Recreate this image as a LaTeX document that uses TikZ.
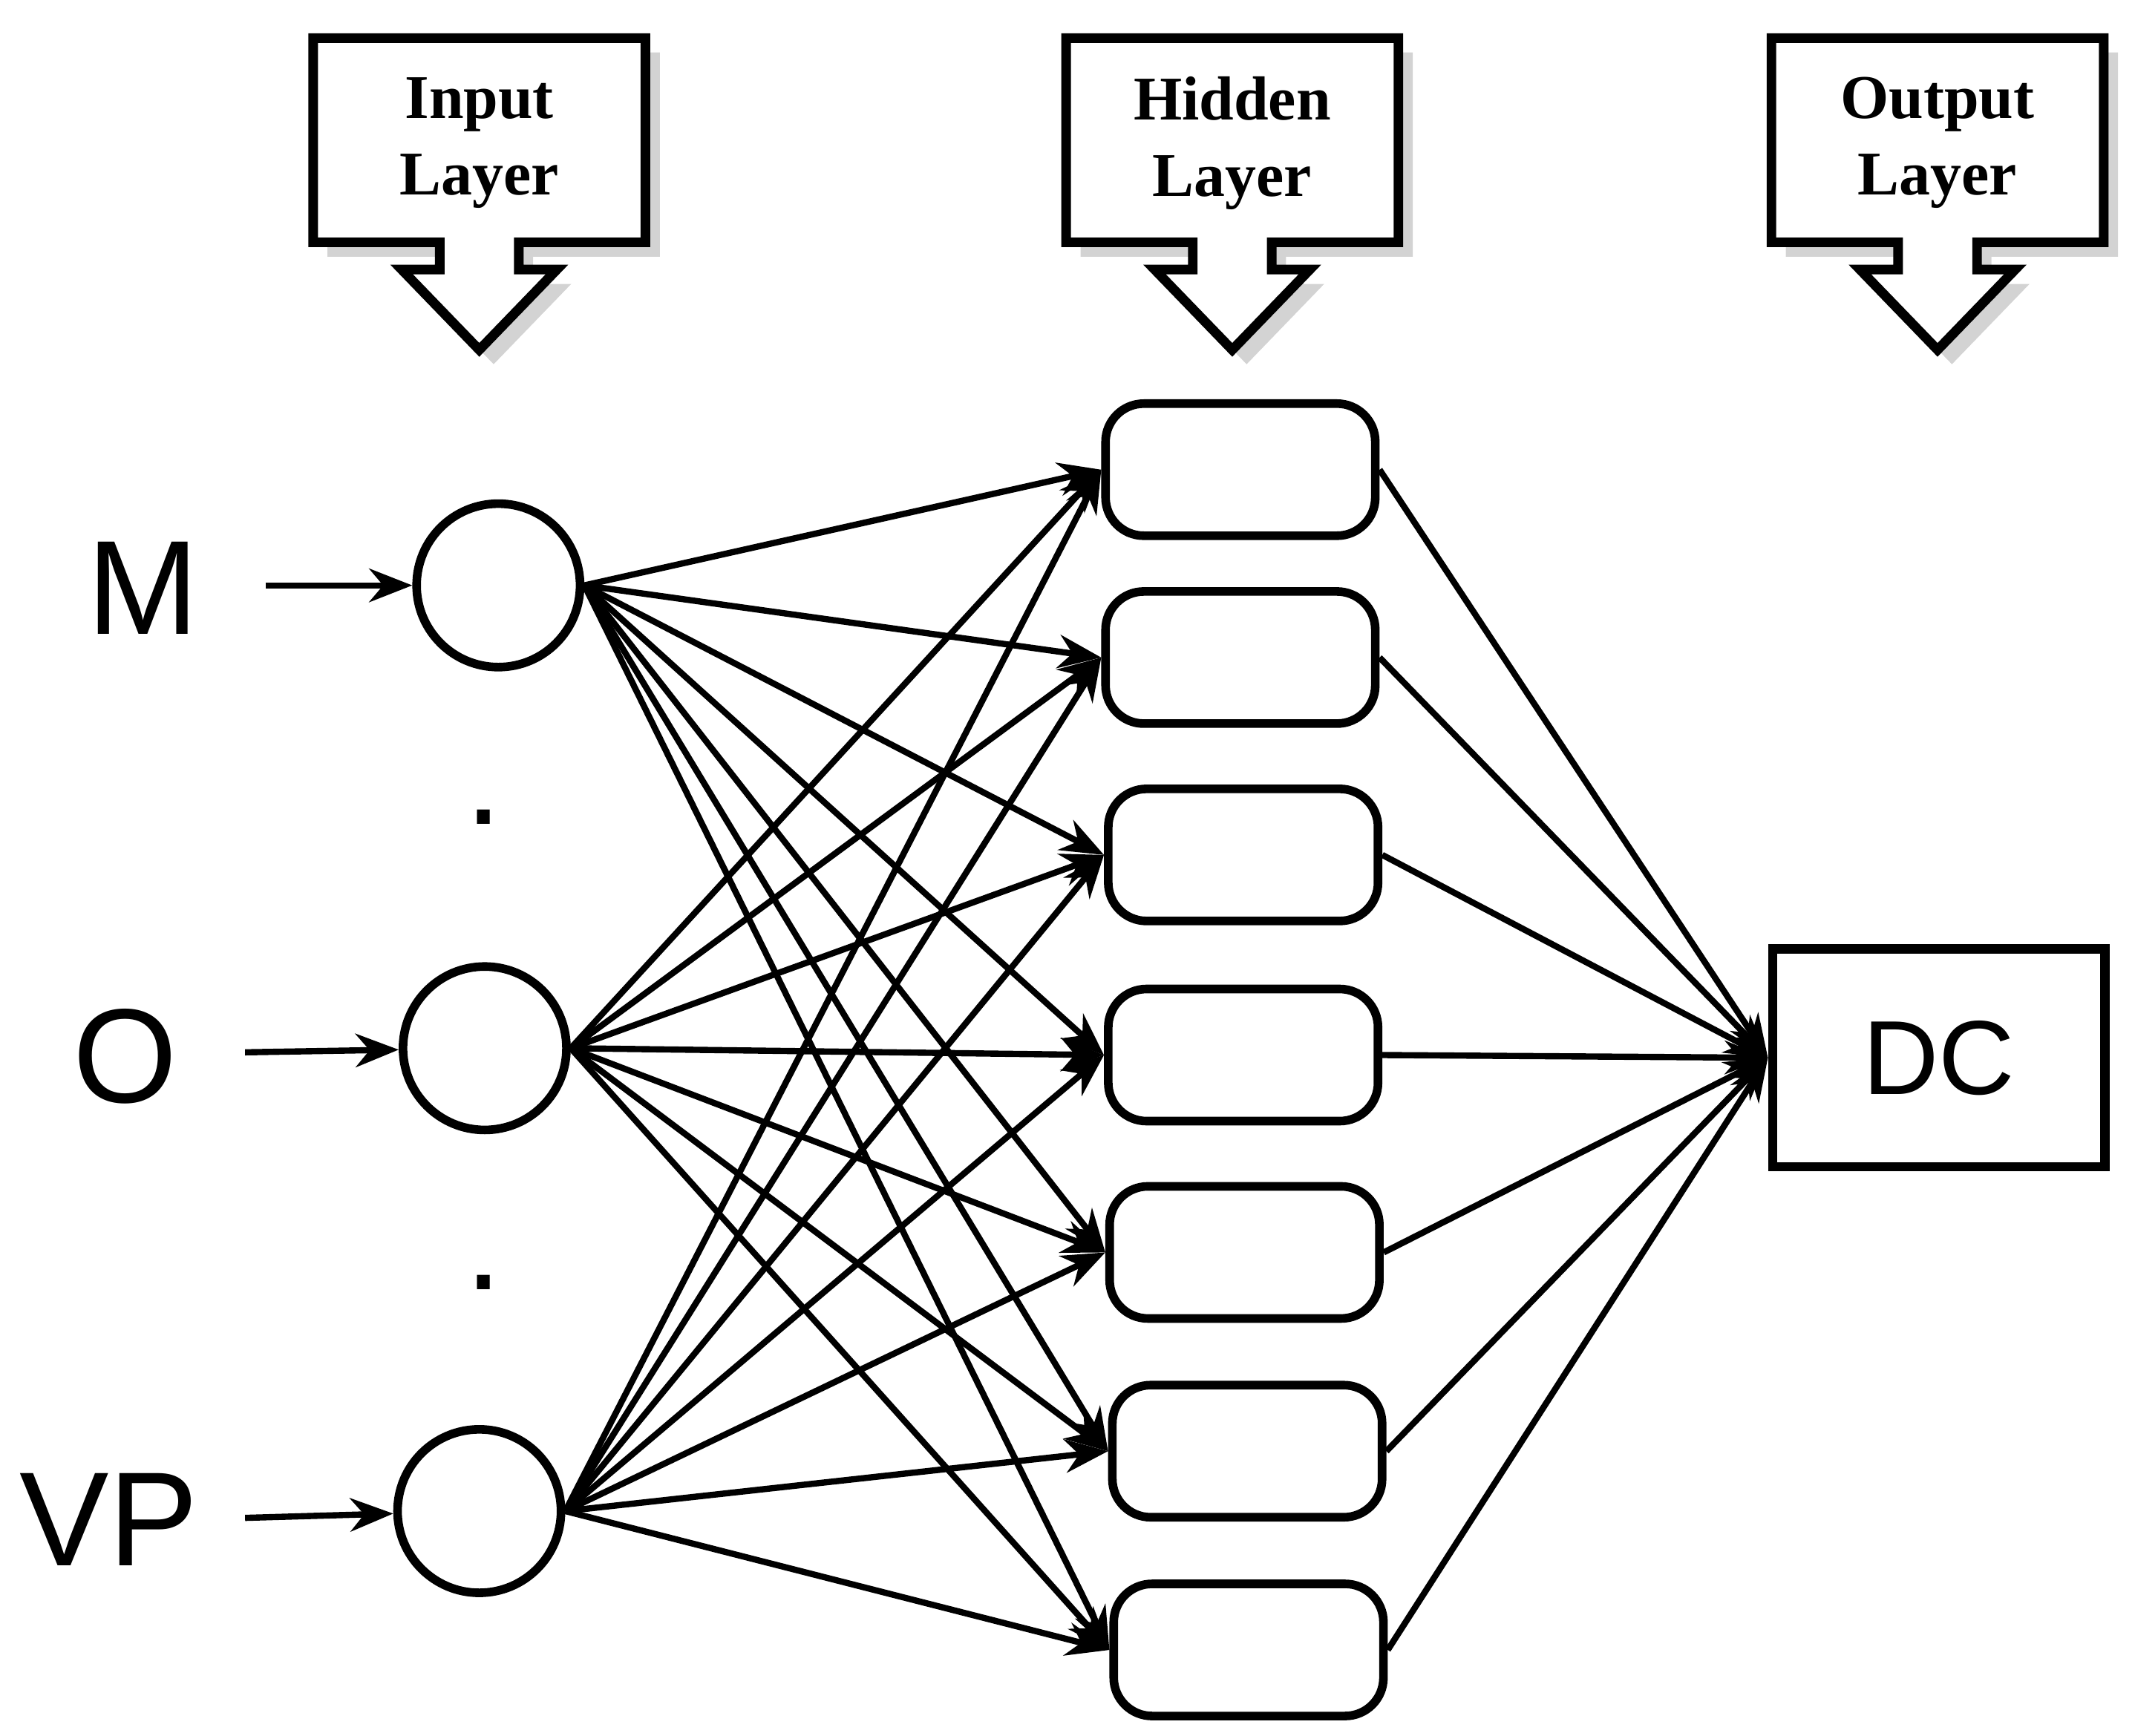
\documentclass[tikz,border=0pt]{standalone}
\usepackage{fontspec}
\setmainfont{Liberation Sans}
\newfontfamily\calloutfont{Liberation Serif}
\usetikzlibrary{arrows.meta, shadows}
\begin{document}
\begin{tikzpicture}[x=0.01cm, y=-0.01cm, >={Stealth[length=9pt,width=7pt]}, line width=1.3pt,
  inp/.style={circle, draw, minimum size=1.2cm, line width=1.8pt},
  hid/.style={rectangle, rounded corners=8pt, draw, minimum width=1.98cm, minimum height=0.97cm, line width=1.8pt},
  lbl/.style={font=\fontsize{28}{30}\selectfont},
  callout/.style={draw, line width=2pt, fill=white, drop shadow={shadow xshift=3pt, shadow yshift=-3pt, opacity=0.35}},
  ctext/.style={align=center, font=\calloutfont\bfseries\fontsize{13}{16}\selectfont}]
\useasboundingbox (0,0) rectangle (1568,1275);

% callouts
\foreach \cx/\name/\txt in {352/ci/Input, 905/ch/Hidden, 1423/co/Output}{
  \path[callout] (\cx-122,28) -- (\cx+122,28) -- (\cx+122,178) -- (\cx+29,178) -- (\cx+29,198)
    -- (\cx+57,198) -- (\cx,257) -- (\cx-57,198) -- (\cx-29,198) -- (\cx-29,178)
    -- (\cx-122,178) -- cycle;
  \node[ctext] (\name) at (\cx,105) {\txt\\Layer};
}

% input layer
\node[inp] (i1) at (366,430) {};
\node[inp] (i2) at (356,770) {};
\node[inp] (i3) at (352,1110) {};
\node[lbl] (lm) at (105,432) {M};
\node[lbl] (lo) at (92,776) {O};
\node[lbl] (lv) at (80,1116) {VP};
\coordinate (s1) at (195,430);
\coordinate (s2) at (180,773);
\coordinate (s3) at (180,1115);
\draw[->] (s1) -- (i1);
\draw[->] (s2) -- (i2);
\draw[->] (s3) -- (i3);
\node[font=\fontsize{28}{30}\selectfont] (d1) at (355,600) {.};
\node[font=\fontsize{28}{30}\selectfont] (d2) at (355,942) {.};

% hidden layer
\foreach \k/\x/\y in {1/911/345, 2/911/483, 3/913/628, 4/913/775, 5/914/920, 6/916/1066, 7/917/1212}
  \node[hid] (h\k) at (\x,\y) {};

% output
\node[draw, line width=2pt, minimum width=2.44cm, minimum height=1.6cm, font=\fontsize{22}{24}\selectfont] (dc) at (1424,777) {DC};

% connections
\foreach \i in {1,2,3}
  \foreach \k in {1,...,7}
    \draw[->] (i\i.east) -- (h\k.west);
\foreach \k in {1,...,7}
  \draw[->] (h\k.east) -- (dc.west);
\end{tikzpicture}
\end{document}
